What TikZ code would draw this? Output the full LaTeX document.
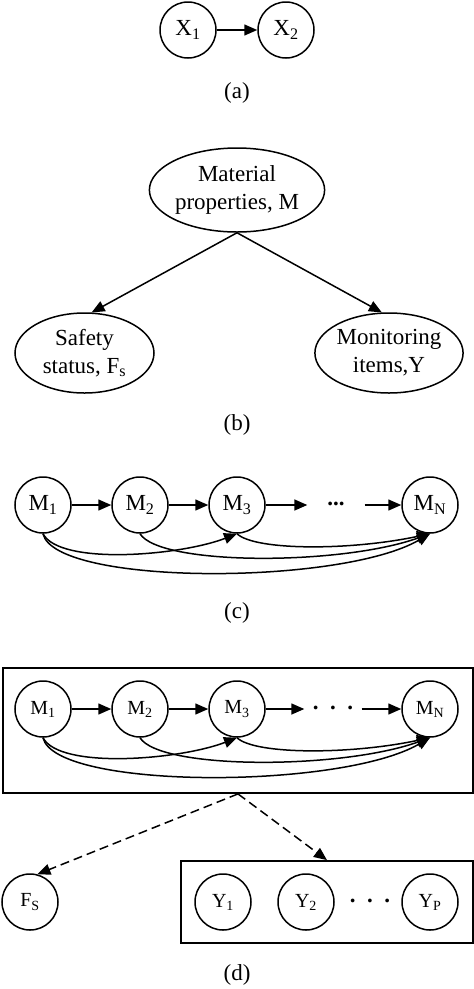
\documentclass[tikz,border=0pt]{standalone}
\usepackage{fontspec}
\setmainfont{Liberation Serif}
\usetikzlibrary{arrows.meta,shapes.geometric}
\begin{document}
\begin{tikzpicture}[x=1pt,y=-1pt,
  every node/.style={font=\fontsize{23}{28}\selectfont},
  var/.style={circle,draw,line width=1.5pt,minimum size=56pt,inner sep=0pt},
  dvar/.style={var,font=\fontsize{20}{24}\selectfont},
  ell/.style={ellipse,draw,line width=1.5pt,inner sep=0pt,align=center},
  arr/.style={line width=1.5pt,-{Triangle[length=13pt,width=11pt]}},
  darr/.style={arr,dash pattern=on 9pt off 5pt},
  dotsnode/.style={inner sep=0pt,minimum width=57pt,minimum height=20pt,text height=0pt,text depth=0pt},
  frame/.style={draw,line width=1.8pt,inner sep=0pt},
  lbl/.style={inner sep=0pt}
]
\useasboundingbox (0,0) rectangle (474,989);
\fill[white] (0,0) rectangle (474,989);

% (a)
\node[var] (X1) at (188,30) {X\textsubscript{1}};
\node[var] (X2) at (286,30) {X\textsubscript{2}};
\draw[arr] (X1) -- (X2);
\node[lbl] (la) at (237,93) {(a)};

% (b)
\node[ell,minimum width=167pt,minimum height=84pt] (M) at (237,190) {Material\\properties, M};
\node[ell,minimum width=139pt,minimum height=80pt] (Fs) at (84.5,353) {Safety\\status, F\textsubscript{s}};
\node[ell,minimum width=139pt,minimum height=80pt] (Y) at (389,353) {Monitoring\\items,Y};
\draw[arr] (M.south) -- (Fs.80);
\draw[arr] (M.south) -- (Y.100);
\node[lbl] (lb) at (237,425) {(b)};

% (c)
\node[var] (c1) at (43,505) {M\textsubscript{1}};
\node[var] (c2) at (140,505) {M\textsubscript{2}};
\node[var] (c3) at (237,505) {M\textsubscript{3}};
\node[dotsnode] (cd) at (336,505) {\bfseries ...};
\node[var] (cN) at (430,505) {M\textsubscript{N}};
\draw[arr] (c1) -- (c2);
\draw[arr] (c2) -- (c3);
\draw[arr] (c3) -- (cd.west);
\draw[arr] (cd.east) -- (cN);
\draw[arr] (c1.south) .. controls +(17,32) and +(-57,22) .. (c3.south);
\draw[arr] (c1.south) .. controls +(12,52) and +(-90,52) .. (cN.south);
\draw[arr] (c2.south) .. controls +(20,32) and +(-90,32) .. (cN.south);
\draw[arr] (c3.south) .. controls +(18,17) and +(-80,17) .. (cN.south);
\node[lbl] (lc) at (237,613) {(c)};

% (d)
\node[frame,minimum width=470pt,minimum height=125pt] (boxM) at (238,730.5) {};
\node[dvar] (d1) at (43,709) {M\textsubscript{1}};
\node[dvar] (d2) at (140,709) {M\textsubscript{2}};
\node[dvar] (d3) at (237,709) {M\textsubscript{3}};
\node[dotsnode] (dd) at (333,709) {\bfseries . \,. \,.};
\node[dvar] (dN) at (430,709) {M\textsubscript{N}};
\draw[arr] (d1) -- (d2);
\draw[arr] (d2) -- (d3);
\draw[arr] (d3) -- (dd.west);
\draw[arr] (dd.east) -- (dN);
\draw[arr] (d1.south) .. controls +(17,32) and +(-57,22) .. (d3.south);
\draw[arr] (d1.south) .. controls +(12,52) and +(-90,52) .. (dN.south);
\draw[arr] (d2.south) .. controls +(20,32) and +(-90,32) .. (dN.south);
\draw[arr] (d3.south) .. controls +(18,17) and +(-80,17) .. (dN.south);

\node[dvar] (FS) at (30,902) {F\textsubscript{S}};
\node[frame,minimum width=292pt,minimum height=82pt] (boxY) at (327,902) {};
\node[dvar] (Y1) at (223,902) {Y\textsubscript{1}};
\node[dvar] (Y2) at (306,902) {Y\textsubscript{2}};
\node[inner sep=0pt,text height=0pt,text depth=0pt] (yd) at (370,902) {\bfseries . \,. \,.};
\node[dvar] (YP) at (430,902) {Y\textsubscript{P}};
\draw[darr] (boxM.south) -- (FS.75);
\draw[darr] (boxM.south) -- (boxY.north);
\node[lbl] (ld) at (237,975) {(d)};
\end{tikzpicture}
\end{document}
